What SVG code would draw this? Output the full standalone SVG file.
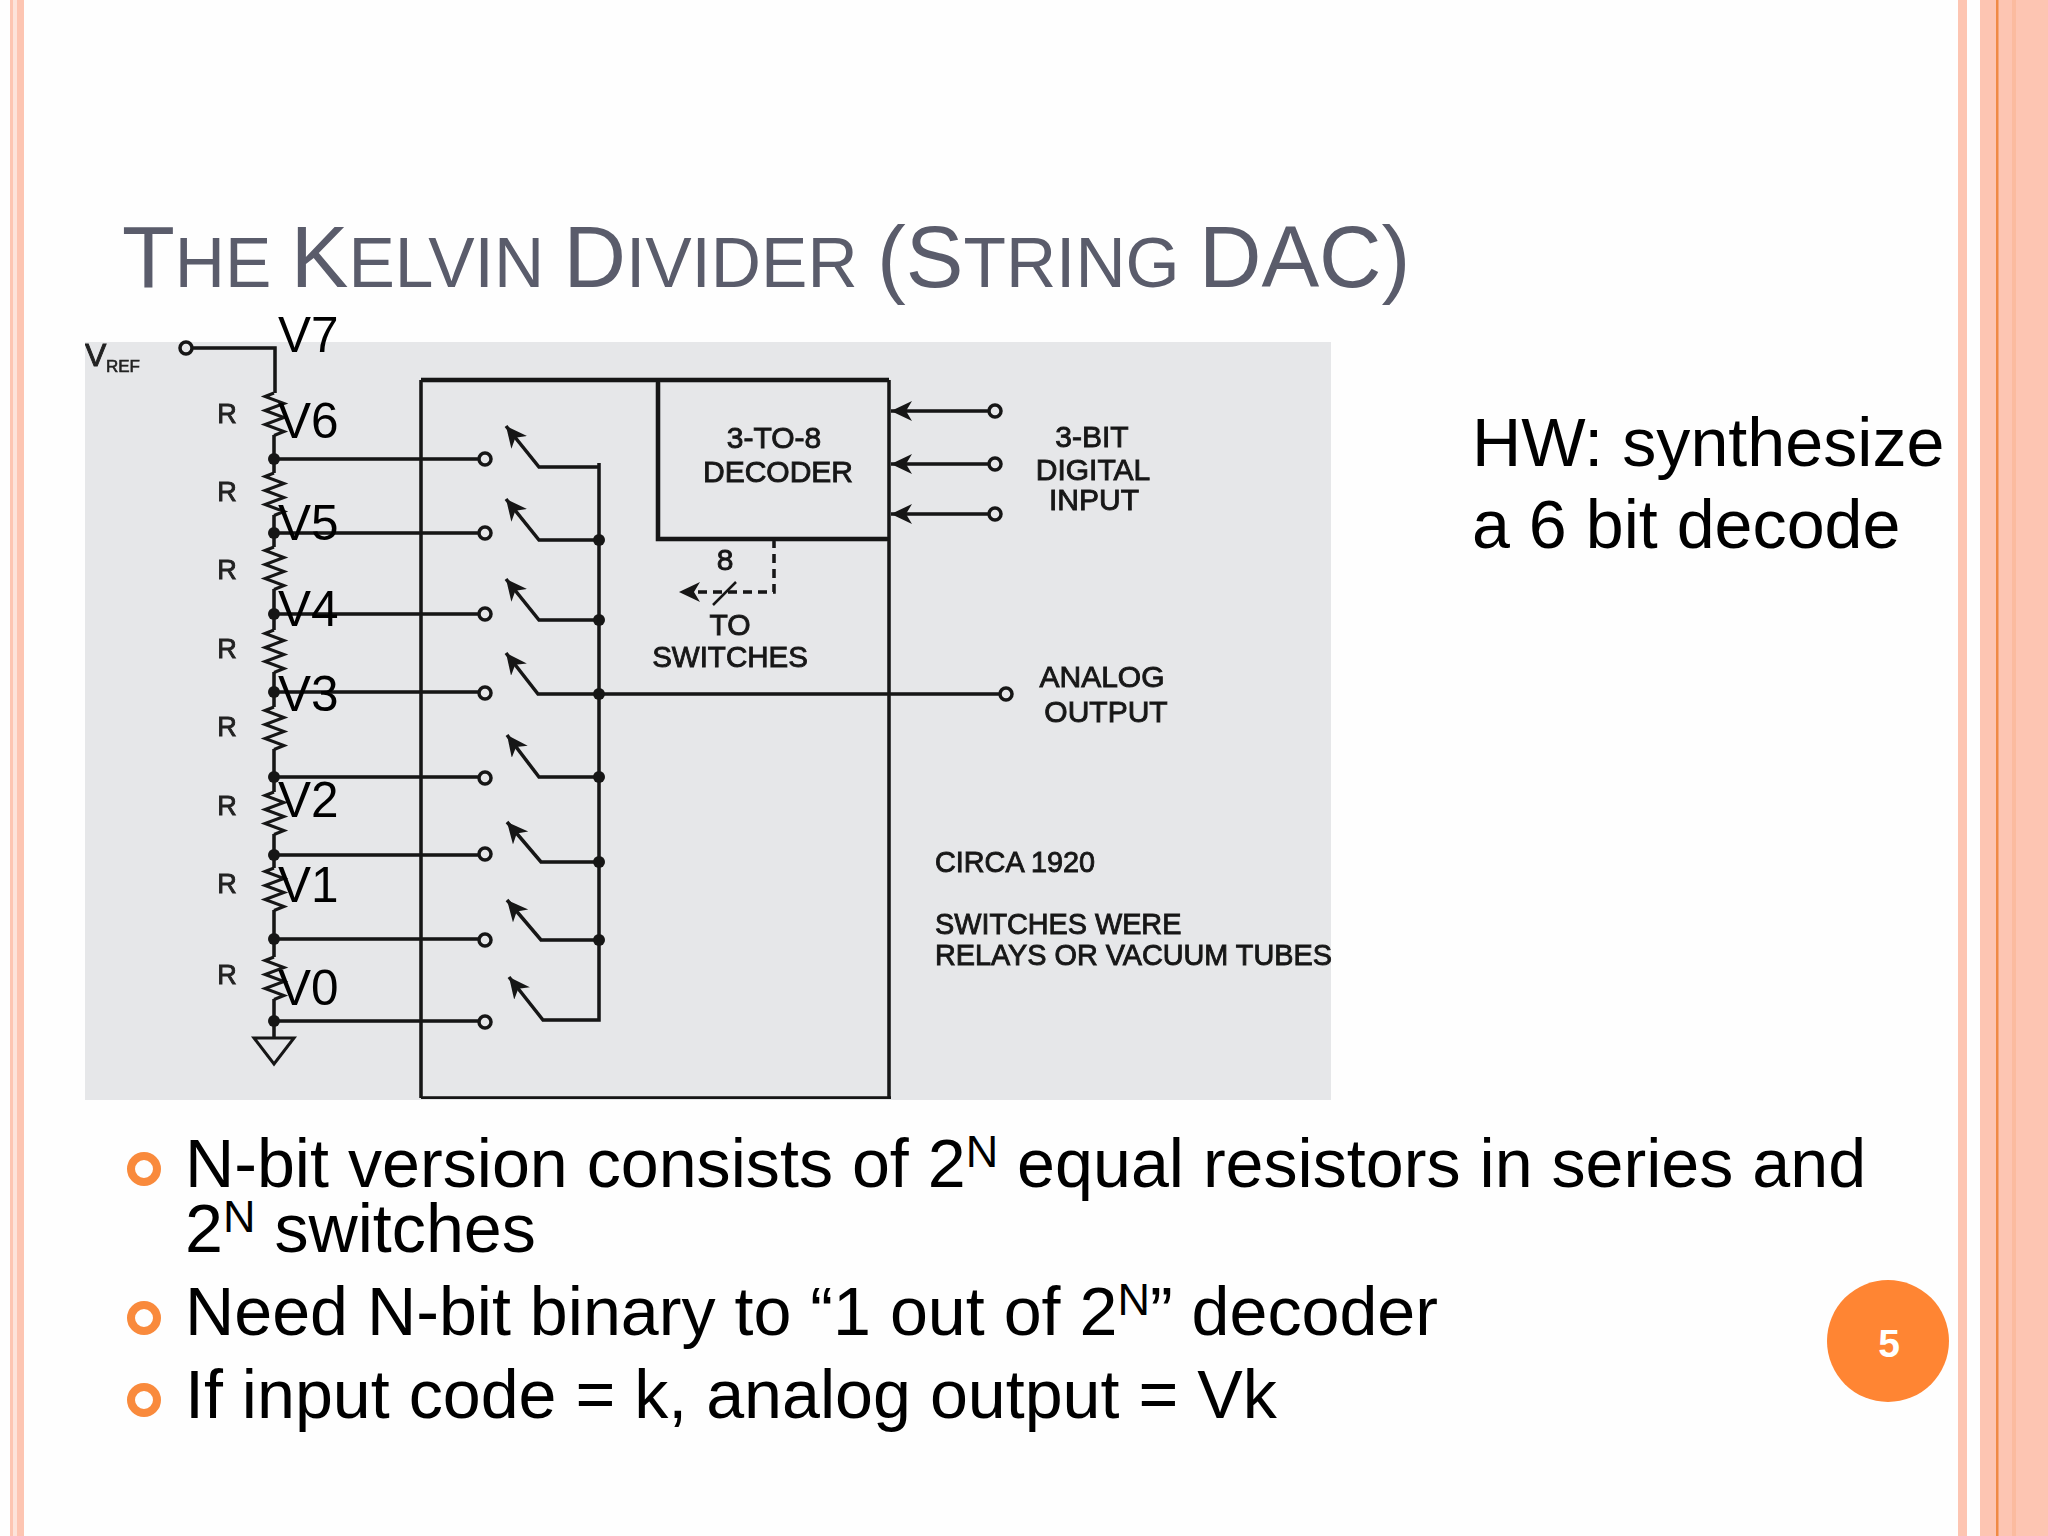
<svg xmlns="http://www.w3.org/2000/svg" xmlns:xlink="http://www.w3.org/1999/xlink" width="2048" height="1536" viewBox="0 0 2048 1536">
<style>
text{font-family:"Liberation Sans",Arial,sans-serif}
.w{fill:none;stroke:#161616;stroke-width:3.5}
.bk{fill:none;stroke:#161616;stroke-width:4.5}
.open{fill:#e6e7e9;stroke:#161616;stroke-width:3.5}
.dot{fill:#161616}
.s{font-size:30px;fill:#161616;stroke:#161616;stroke-width:.9;text-anchor:middle}
.l{font-size:28.8px;fill:#161616;stroke:#161616;stroke-width:.9}
.r{font-size:27px;fill:#222;stroke:#222;stroke-width:.9;text-anchor:middle}
.v{font-size:49.5px;fill:#000}
.b{font-size:68.2px;fill:#000}
.sup{font-size:45px}
.t{fill:#5a5c6b;font-size:69.5px}
.cap{font-size:86.5px}
.ring{fill:none;stroke:#f98a3c;stroke-width:8}
.p{fill:#fdc5b2}
</style>
<defs>
<filter id="soft" x="0" y="0" width="1" height="1"><feGaussianBlur stdDeviation="0.7"/></filter>
<marker id="ah" markerUnits="userSpaceOnUse" markerWidth="24" markerHeight="22" refX="21" refY="10" orient="auto"><path d="M0 0L21 10L0 20L6 10Z" fill="#161616"/></marker>
<path id="res" d="M0 0l-9 3.5l19 7l-19 7l19 7l-19 7l19 7l-10 4" fill="none" stroke="#161616" stroke-width="3"/>
</defs>
<rect width="2048" height="1536" fill="#fefefe"/>
<g id="frame">
<rect class="p" x="10" y="0" width="3" height="1536"/>
<rect x="13" y="0" width="4" height="1536" fill="#fde3da"/>
<rect class="p" x="17" y="0" width="7" height="1536"/>
<rect class="p" x="1958" y="0" width="9" height="1536"/>
<rect class="p" x="1980" y="0" width="68" height="1536"/>
<rect x="1996" y="0" width="2.5" height="1536" fill="#f08a45"/>
<rect x="2012" y="0" width="4" height="1536" fill="#fbbb9f"/>
</g>
<text id="title" class="t" x="122" y="287"><tspan class="cap">T</tspan>HE <tspan class="cap">K</tspan>ELVIN <tspan class="cap">D</tspan>IVIDER <tspan class="cap">(S</tspan>TRING <tspan class="cap">DAC)</tspan></text>
<rect id="panel" x="85" y="342" width="1246" height="758" fill="#e6e7e9"/>
<g id="circuit" filter="url(#soft)">
<g id="connectors">
<path class="w" d="M192 348H275V393"/>
<path class="w" d="M274 435V473M274 515V547M274 589V630M274 672V707M274 749V792M274 834V868M274 910V957M274 999V1037"/>
<path class="w" d="M274 459H480M274 533H480M274 614H480M274 692H480M274 777H480M274 855H480M274 939H480M274 1021H480"/>
<path class="w" d="M599 463V1020H543L509 977" marker-end="url(#ah)"/>
<path class="w" d="M599 467H539L506 426" marker-end="url(#ah)"/>
<path class="w" d="M599 540H539L506 499" marker-end="url(#ah)"/>
<path class="w" d="M599 620H539L506 579" marker-end="url(#ah)"/>
<path class="w" d="M599 694H538L506 653" marker-end="url(#ah)"/>
<path class="w" d="M599 777H539L507 735" marker-end="url(#ah)"/>
<path class="w" d="M599 862H541L507 822" marker-end="url(#ah)"/>
<path class="w" d="M599 940H541L507 900" marker-end="url(#ah)"/>
<path class="w" d="M599 694H1000"/>
<path class="w" d="M989 411H891" marker-end="url(#ah)"/>
<path class="w" d="M989 464H891" marker-end="url(#ah)"/>
<path class="w" d="M989 514H891" marker-end="url(#ah)"/>
<path class="w" d="M774 539V592H679" stroke-dasharray="9 6" marker-end="url(#ah)"/>
<path class="w" d="M736 582L713 605" style="stroke-width:2.5"/>
</g>
<g id="dividers">
<use href="#res" x="274" y="393"/><use href="#res" x="274" y="473"/><use href="#res" x="274" y="547"/><use href="#res" x="274" y="630"/>
<use href="#res" x="274" y="707"/><use href="#res" x="274" y="792"/><use href="#res" x="274" y="868"/><use href="#res" x="274" y="957"/>
</g>
<g id="junctions">
<circle class="dot" cx="274" cy="459" r="6"/><circle class="dot" cx="274" cy="533" r="6"/><circle class="dot" cx="274" cy="614" r="6"/><circle class="dot" cx="274" cy="692" r="6"/>
<circle class="dot" cx="274" cy="777" r="6"/><circle class="dot" cx="274" cy="855" r="6"/><circle class="dot" cx="274" cy="939" r="6"/><circle class="dot" cx="274" cy="1021" r="6"/>
<circle class="dot" cx="599" cy="540" r="6"/><circle class="dot" cx="599" cy="620" r="6"/><circle class="dot" cx="599" cy="694" r="6"/><circle class="dot" cx="599" cy="777" r="6"/><circle class="dot" cx="599" cy="862" r="6"/><circle class="dot" cx="599" cy="940" r="6"/>
</g>
<g id="terminals">
<circle class="open" cx="186" cy="348" r="6"/>
<circle class="open" cx="485" cy="459" r="6"/><circle class="open" cx="485" cy="533" r="6"/><circle class="open" cx="485" cy="614" r="6"/><circle class="open" cx="485" cy="693" r="6"/>
<circle class="open" cx="485" cy="778" r="6"/><circle class="open" cx="485" cy="854" r="6"/><circle class="open" cx="485" cy="940" r="6"/><circle class="open" cx="485" cy="1022" r="6"/>
<circle class="open" cx="995" cy="411" r="6"/><circle class="open" cx="995" cy="464" r="6"/><circle class="open" cx="995" cy="514" r="6"/><circle class="open" cx="1006" cy="694" r="6"/>
</g>
<g id="ground"><path d="M254 1038H294L274 1064Z" fill="none" stroke="#161616" stroke-width="3"/></g>
<g id="switch-box"><path class="bk" d="M421 380H889"/><path class="w" d="M421 380V1098M889 380V1098"/><path class="bk" d="M421 1098.500H891"/></g>
<g id="decoder">
<path class="bk" d="M658 380V539H889"/>
<text class="s" x="774" y="448">3-TO-8</text>
<text class="s" x="778" y="482">DECODER</text>
</g>
<g id="labels">
<text x="85" y="366" font-size="32" fill="#222" stroke="#222" stroke-width=".9">V</text><text x="106" y="372" font-size="17" fill="#222" stroke="#222" stroke-width=".6">REF</text>
<text class="r" x="227" y="423">R</text><text class="r" x="227" y="501">R</text><text class="r" x="227" y="579">R</text><text class="r" x="227" y="658">R</text>
<text class="r" x="227" y="736">R</text><text class="r" x="227" y="815">R</text><text class="r" x="227" y="893">R</text><text class="r" x="227" y="984">R</text>
<text class="s" x="1092" y="447">3-BIT</text><text class="s" x="1093" y="480">DIGITAL</text><text class="s" x="1094" y="510">INPUT</text>
<text class="s" x="725" y="570">8</text><text class="s" x="730" y="635">TO</text><text class="s" x="730" y="667" style="font-size:29.500px">SWITCHES</text>
<text class="s" x="1102" y="687">ANALOG</text><text class="s" x="1106" y="722">OUTPUT</text>
<text class="l" x="935" y="872">CIRCA 1920</text><text class="l" x="935" y="934">SWITCHES WERE</text><text class="l" x="935" y="965">RELAYS OR VACUUM TUBES</text>
</g>
</g>
<g id="voltage-labels">
<text class="v" x="278" y="352">V7</text><text class="v" x="278" y="438">V6</text><text class="v" x="278" y="540">V5</text><text class="v" x="278" y="626">V4</text>
<text class="v" x="278" y="711">V3</text><text class="v" x="278" y="817">V2</text><text class="v" x="278" y="902">V1</text><text class="v" x="278" y="1005">V0</text>
</g>
<g id="hw-note"><text class="b" x="1472" y="466">HW: synthesize</text><text class="b" x="1472" y="548">a 6 bit decode</text></g>
<g id="bullets">
<circle class="ring" cx="144" cy="1169" r="13"/><circle class="ring" cx="144" cy="1318" r="13"/><circle class="ring" cx="144" cy="1400" r="13"/>
<text class="b" x="185" y="1187">N-bit version consists of 2<tspan class="sup" dy="-20">N</tspan><tspan dy="20"> equal resistors in series and</tspan></text>
<text class="b" x="185" y="1252">2<tspan class="sup" dy="-20">N</tspan><tspan dy="20"> switches</tspan></text>
<text class="b" x="185" y="1335">Need N-bit binary to “1 out of 2<tspan class="sup" dy="-20">N</tspan><tspan dy="20">” decoder</tspan></text>
<text class="b" x="185" y="1418">If input code = k, analog output = Vk</text>
</g>
<g id="page-number"><circle cx="1888" cy="1341" r="61" fill="#ff8533"/><text x="1889" y="1357" font-size="39" font-weight="bold" fill="#fff" text-anchor="middle">5</text></g>
</svg>
